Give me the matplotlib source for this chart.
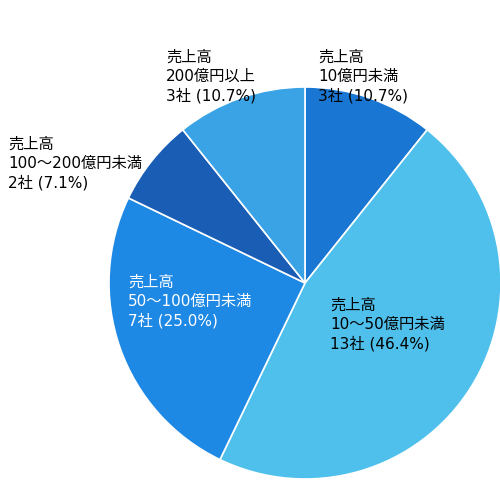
import matplotlib
matplotlib.use("Agg")
import matplotlib.pyplot as plt

plt.rcParams['font.family'] = ['DejaVu Sans', 'Noto Sans CJK JP']

labels = ["売上高\n10億円未満\n3社 (10.7%)", "売上高\n10～50億円未満\n13社 (46.4%)",
          "売上高\n50～100億円未満\n7社 (25.0%)", "売上高\n100～200億円未満\n2社 (7.1%)",
          "売上高\n200億円以上\n3社 (10.7%)"]
values = [3, 13, 7, 2, 3]
colors = ["#1976d2", "#4fc0ec", "#1e88e5", "#1a5db5", "#3aa3e6"]
label_pos = [(318, 50), (330, 298), (128, 275), (8, 137), (166, 50)]
label_col = ["black", "black", "white", "black", "black"]

fig = plt.figure(figsize=(5, 5), dpi=100)
ax = fig.add_axes([0.218, 0.042, 0.784, 0.784])
ax.pie(values, colors=colors, startangle=90, counterclock=False,
       wedgeprops=dict(edgecolor="white", linewidth=1.2))
ax.set_xlim(-1, 1); ax.set_ylim(-1, 1)
ax.set_aspect('equal')
for t, (x, y), c in zip(labels, label_pos, label_col):
    fig.text(x / 500, 1 - y / 500, t, fontsize=11, color=c, va='top', ha='left', linespacing=1.3)
fig.savefig("out.png")
